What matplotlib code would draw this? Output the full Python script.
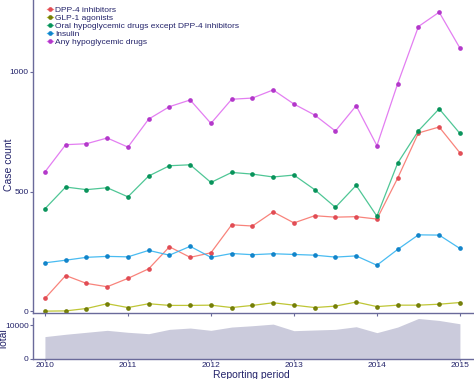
import numpy as np
import matplotlib
matplotlib.use("Agg")
import matplotlib.pyplot as plt

plt.rcParams['font.family'] = ['Liberation Sans', 'DejaVu Sans']

# quarterly reporting periods 2010 Q1 .. 2015 Q1
periods = np.arange(21) / 4.0 + 2010

dpp4 = [53, 149, 116, 102, 137, 177, 269, 225, 244, 361, 356, 415, 369, 399, 393, 395, 385, 556, 745, 770, 662]
glp1 = [0, 1, 11, 31, 15, 31, 24, 24, 25, 15, 24, 35, 25, 15, 21, 38, 19, 25, 25, 29, 36]
oral = [428, 519, 508, 516, 478, 565, 608, 612, 538, 580, 573, 561, 569, 508, 434, 526, 397, 619, 754, 846, 743]
insulin = [202, 213, 225, 229, 227, 254, 234, 271, 225, 241, 236, 240, 237, 234, 226, 231, 192, 258, 319, 318, 262]
any_drug = [582, 696, 700, 724, 686, 803, 855, 883, 785, 886, 891, 925, 866, 820, 753, 859, 692, 951, 1190, 1250, 1100]
total = [6600, 7290, 7870, 8450, 7870, 7460, 8740, 9130, 8450, 9420, 9810, 10290, 8350, 8550, 8740, 9520, 7770, 9420, 11950, 11370, 10390]

series = [
    ("DPP-4 inhibitors", dpp4, "#F8766D", "#e0464f"),
    ("GLP-1 agonists", glp1, "#B8C020", "#6f7a00"),
    ("Oral hypoglycemic drugs except DPP-4 inhibitors", oral, "#3CC08A", "#008f55"),
    ("Insulin", insulin, "#35B4F0", "#0a80c8"),
    ("Any hypoglycemic drugs", any_drug, "#E070F0", "#b030c8"),
]

axis_col = "#6a6a9a"
text_col = "#23236a"

fig = plt.figure(figsize=(4.74, 3.79), dpi=100)
ax = fig.add_axes([0.0696, 0.174, 0.928, 0.826])
ax2 = fig.add_axes([0.0696, 0.052, 0.928, 0.109])

for name, vals, lc, mc in series:
    ax.plot(periods, vals, color=lc, lw=0.9, alpha=0.9,
            marker="o", markersize=2.4, markerfacecolor=mc, markeredgecolor=mc,
            label=name)

ax2.fill_between(periods, 0, total, color="#cbcbdc", lw=0)

for a in (ax, ax2):
    a.set_xlim(2009.856, 2015.156)
    a.set_xticks(range(2010, 2016))
    for s in ("top", "right"):
        a.spines[s].set_visible(False)
    for s in ("left", "bottom"):
        a.spines[s].set_color(axis_col)
        a.spines[s].set_linewidth(1.0)
    a.tick_params(colors=axis_col, labelcolor=text_col, labelsize=6, length=2, width=0.8, pad=1.0)

ax.set_ylim(-8, 1301)
ax.set_yticks([0, 500, 1000])
ax.set_xticklabels([])
ax.set_ylabel("Case count", color=text_col, fontsize=7.5)
ax.yaxis.set_label_coords(14 / 474, 1 - 165 / 379, transform=fig.transFigure)

ax2.set_ylim(-100, 12100)
ax2.set_yticks([0, 10000])
ax2.tick_params(axis="x", pad=0.2, length=1.5)
ax2.set_ylabel("Total", color=text_col, fontsize=7.5)
ax2.yaxis.set_label_coords(9 / 474, 1 - 339 / 379, transform=fig.transFigure)
ax2.set_xlabel("Reporting period", color=text_col, fontsize=7.5)
ax2.xaxis.set_label_coords(0.53, 1 - 370 / 379, transform=fig.transFigure)

leg = ax.legend(loc="upper left", bbox_to_anchor=(0.02, 0.995), frameon=False,
                fontsize=6, handlelength=0.7, handletextpad=0.3, labelspacing=0.0,
                borderaxespad=0.2)
for t in leg.get_texts():
    t.set_color(text_col)

fig.savefig("out.png", dpi=100)
